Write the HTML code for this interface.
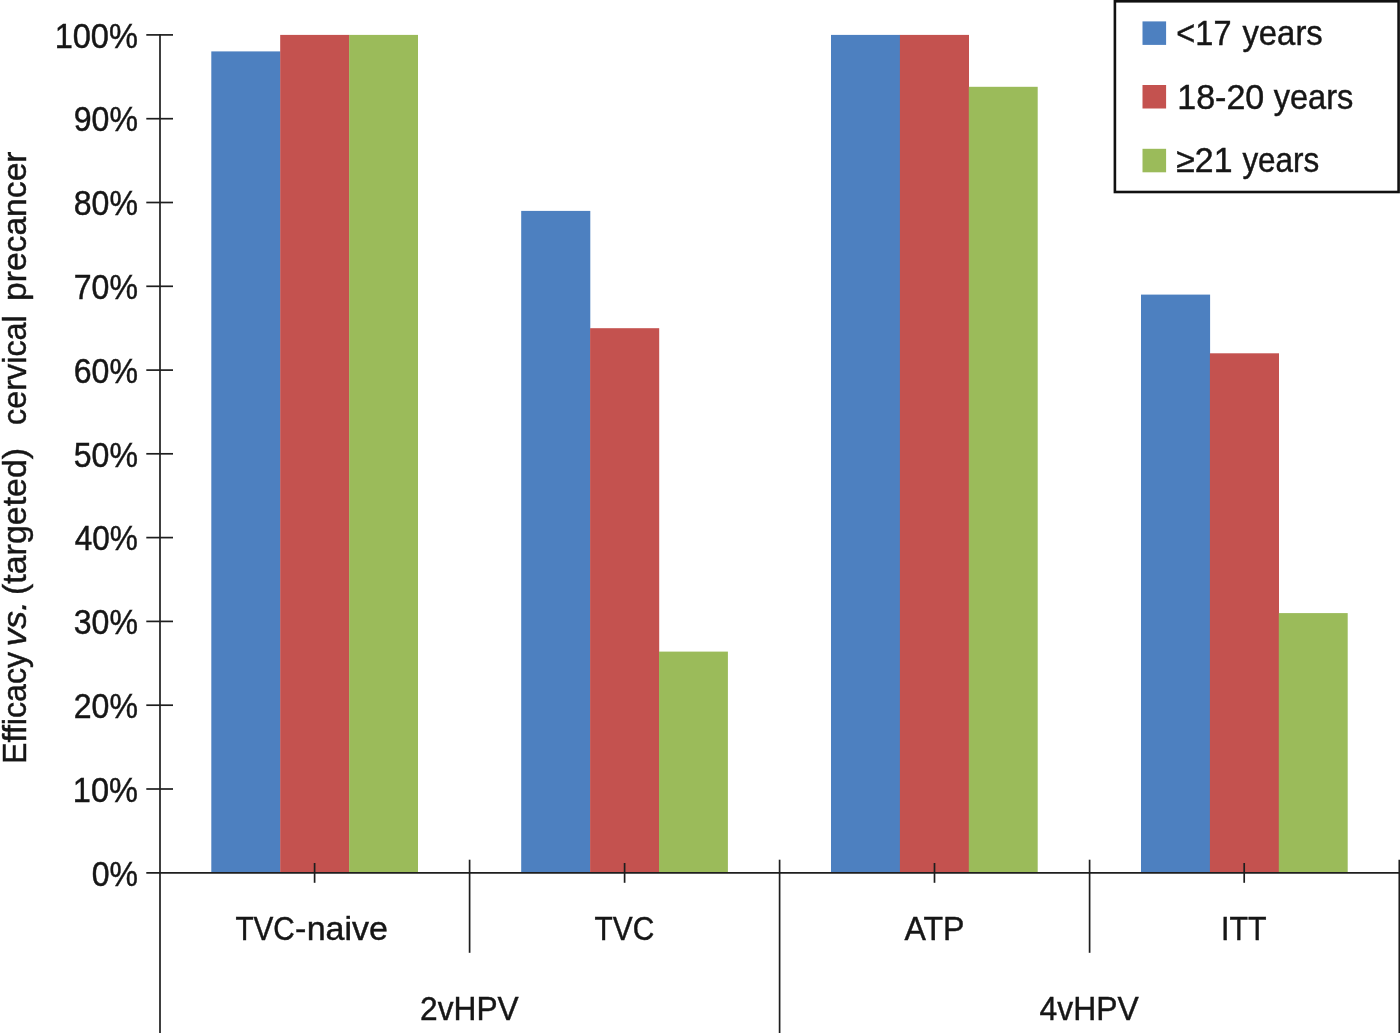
<!DOCTYPE html>
<html lang="en">
<head>
<meta charset="utf-8">
<title>Efficacy vs. (targeted) cervical precancer</title>
<style>
html,body{margin:0;padding:0;background:#fff;}
body{width:1400px;height:1033px;overflow:hidden;}
svg{display:block;}
text{font-family:"Liberation Sans",sans-serif;fill:#161616;stroke:#161616;stroke-width:0.45;}
.tick{font-size:34.9px;}
.cat{font-size:34.1px;}
.leg{font-size:34.6px;}
.title{font-size:33.5px;}
</style>
</head>
<body>
<svg width="1400" height="1033" viewBox="0 0 1400 1033">
<rect x="0" y="0" width="1400" height="1033" fill="#ffffff"/>
<g>
<rect x="211.3" y="51.4" width="69.1" height="821.4" fill="#4D80C0"/>
<rect x="280.2" y="34.9" width="69.1" height="837.9" fill="#C4524F"/>
<rect x="349.1" y="34.9" width="68.9" height="837.9" fill="#9BBB5A"/>
<rect x="521.2" y="210.9" width="69.1" height="661.9" fill="#4D80C0"/>
<rect x="590.1" y="328.2" width="69.1" height="544.6" fill="#C4524F"/>
<rect x="659.0" y="651.6" width="68.9" height="221.2" fill="#9BBB5A"/>
<rect x="831.0" y="34.9" width="69.1" height="837.9" fill="#4D80C0"/>
<rect x="899.9" y="34.9" width="69.1" height="837.9" fill="#C4524F"/>
<rect x="968.8" y="86.8" width="68.9" height="786.0" fill="#9BBB5A"/>
<rect x="1141.0" y="294.6" width="69.1" height="578.2" fill="#4D80C0"/>
<rect x="1209.9" y="353.3" width="69.1" height="519.5" fill="#C4524F"/>
<rect x="1278.8" y="613.1" width="68.9" height="259.7" fill="#9BBB5A"/>
</g>
<g stroke="#1e1e1e" stroke-width="1.7" fill="none">
<line x1="160" y1="34.1" x2="160" y2="1033"/>
<line x1="146.3" y1="872.8" x2="1400" y2="872.8"/>
<line x1="146.3" y1="789.0" x2="173" y2="789.0"/>
<line x1="146.3" y1="705.2" x2="173" y2="705.2"/>
<line x1="146.3" y1="621.4" x2="173" y2="621.4"/>
<line x1="146.3" y1="537.6" x2="173" y2="537.6"/>
<line x1="146.3" y1="453.8" x2="173" y2="453.8"/>
<line x1="146.3" y1="370.1" x2="173" y2="370.1"/>
<line x1="146.3" y1="286.3" x2="173" y2="286.3"/>
<line x1="146.3" y1="202.5" x2="173" y2="202.5"/>
<line x1="146.3" y1="118.7" x2="173" y2="118.7"/>
<line x1="146.3" y1="34.9" x2="173" y2="34.9"/>
<line x1="314.6" y1="863" x2="314.6" y2="882.8"/>
<line x1="624.6" y1="863" x2="624.6" y2="882.8"/>
<line x1="934.5" y1="863" x2="934.5" y2="882.8"/>
<line x1="1244.2" y1="863" x2="1244.2" y2="882.8"/>
<line x1="469.6" y1="859.7" x2="469.6" y2="952.8"/>
<line x1="1089.6" y1="859.7" x2="1089.6" y2="952.8"/>
<line x1="779.6" y1="859.7" x2="779.6" y2="1033"/>
<line x1="1399.3" y1="859.7" x2="1399.3" y2="1033"/>
</g>
<g class="tick">
<text y="885.60" xml:space="preserve"><tspan x="91.68" textLength="46.26" lengthAdjust="spacingAndGlyphs">0%</tspan></text>
<text y="801.81" xml:space="preserve"><tspan x="72.83" textLength="65.12" lengthAdjust="spacingAndGlyphs">10%</tspan></text>
<text y="718.02" xml:space="preserve"><tspan x="73.78" textLength="64.16" lengthAdjust="spacingAndGlyphs">20%</tspan></text>
<text y="634.23" xml:space="preserve"><tspan x="73.78" textLength="64.16" lengthAdjust="spacingAndGlyphs">30%</tspan></text>
<text y="550.44" xml:space="preserve"><tspan x="74.70" textLength="63.23" lengthAdjust="spacingAndGlyphs">40%</tspan></text>
<text y="466.65" xml:space="preserve"><tspan x="73.78" textLength="64.16" lengthAdjust="spacingAndGlyphs">50%</tspan></text>
<text y="382.86" xml:space="preserve"><tspan x="73.78" textLength="64.16" lengthAdjust="spacingAndGlyphs">60%</tspan></text>
<text y="299.07" xml:space="preserve"><tspan x="73.78" textLength="64.16" lengthAdjust="spacingAndGlyphs">70%</tspan></text>
<text y="215.28" xml:space="preserve"><tspan x="73.78" textLength="64.16" lengthAdjust="spacingAndGlyphs">80%</tspan></text>
<text y="131.49" xml:space="preserve"><tspan x="73.78" textLength="64.16" lengthAdjust="spacingAndGlyphs">90%</tspan></text>
<text y="47.70" xml:space="preserve"><tspan x="54.63" textLength="83.32" lengthAdjust="spacingAndGlyphs">100%</tspan></text>
</g>
<g class="cat">
<text y="940.20" xml:space="preserve"><tspan x="235.40" textLength="59.43" lengthAdjust="spacingAndGlyphs">TVC</tspan><tspan x="295.10" textLength="11.35" lengthAdjust="spacingAndGlyphs">-</tspan><tspan x="306.70" textLength="81.35" lengthAdjust="spacingAndGlyphs">naive</tspan></text>
<text y="940.20" xml:space="preserve"><tspan x="594.50" textLength="59.73" lengthAdjust="spacingAndGlyphs">TVC</tspan></text>
<text y="940.20" xml:space="preserve"><tspan x="904.50" textLength="60.03" lengthAdjust="spacingAndGlyphs">ATP</tspan></text>
<text y="940.20" xml:space="preserve"><tspan x="1221.03" textLength="45.51" lengthAdjust="spacingAndGlyphs">ITT</tspan></text>
<text y="1019.90" xml:space="preserve"><tspan x="420.07" textLength="98.58" lengthAdjust="spacingAndGlyphs">2vHPV</tspan></text>
<text y="1019.90" xml:space="preserve"><tspan x="1039.50" textLength="99.15" lengthAdjust="spacingAndGlyphs">4vHPV</tspan></text>
</g>
<g class="title" transform="translate(25.6 762) rotate(-90)">
<text y="0.00" xml:space="preserve"><tspan x="-1.92" textLength="112.08" lengthAdjust="spacingAndGlyphs">Efficacy</tspan> <tspan x="115.54" textLength="45.48" lengthAdjust="spacingAndGlyphs" font-style="italic">vs.</tspan> <tspan x="166.97" textLength="147.20" lengthAdjust="spacingAndGlyphs">(targeted)</tspan>  <tspan x="337.03" textLength="109.76" lengthAdjust="spacingAndGlyphs">cervical</tspan> <tspan x="460.99" textLength="149.56" lengthAdjust="spacingAndGlyphs">precancer</tspan></text>
</g>
<rect x="1114.9" y="1.3" width="283.7" height="190.7" fill="#ffffff" stroke="#111111" stroke-width="2.6"/>
<rect x="1142.5" y="21.4" width="23.6" height="23.5" fill="#4D80C0"/>
<rect x="1142.5" y="85.0" width="23.6" height="23.5" fill="#C4524F"/>
<rect x="1142.5" y="148.8" width="23.6" height="23.5" fill="#9BBB5A"/>
<g class="leg">
<text y="45.10" xml:space="preserve"><tspan x="1176.36" textLength="55.10" lengthAdjust="spacingAndGlyphs">&lt;17</tspan> <tspan x="1242.40" textLength="80.37" lengthAdjust="spacingAndGlyphs">years</tspan></text>
<text y="108.70" xml:space="preserve"><tspan x="1177.23" textLength="87.08" lengthAdjust="spacingAndGlyphs">18-20</tspan> <tspan x="1273.70" textLength="79.67" lengthAdjust="spacingAndGlyphs">years</tspan></text>
<text y="172.30" xml:space="preserve"><tspan x="1176.32" textLength="56.18" lengthAdjust="spacingAndGlyphs">≥21</tspan> <tspan x="1242.40" textLength="76.86" lengthAdjust="spacingAndGlyphs">years</tspan></text>
</g>
</svg>
</body>
</html>
